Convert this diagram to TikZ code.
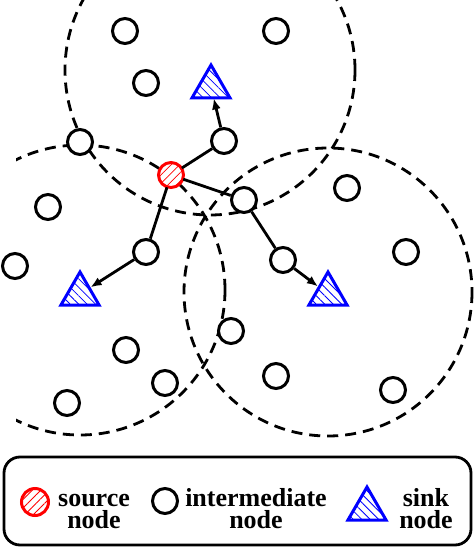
\documentclass[tikz,border=0pt]{standalone}
\usepackage{fontspec}
\setmainfont{Liberation Serif}
\usetikzlibrary{shapes.geometric,arrows.meta,patterns.meta}

\begin{document}
\begin{tikzpicture}[x=1pt,y=-1pt,
        relay/.style={circle, draw=black, line width=3pt, fill=white, minimum size=25pt, inner sep=0pt},
        srcnode/.style={circle, draw=red, line width=3pt, minimum size=25pt, inner sep=0pt,
            preaction={fill=white}, pattern={Lines[angle=45,distance=6pt,line width=0.8pt]}, pattern color=red},
        sinknode/.style={regular polygon, regular polygon sides=3, draw=blue, line width=3pt,
            minimum size=44pt, inner sep=0pt,
            preaction={fill=white}, pattern={Lines[angle=-45,distance=6pt,line width=0.8pt]}, pattern color=blue},
        coverage/.style={black, line width=2.8pt, dash pattern=on 11pt off 7pt},
        link/.style={black, line width=2.8pt},
        hop/.style={link, -{Latex[length=11pt,width=9pt]}},
        legtext/.style={font=\bfseries\fontsize{26}{22}\selectfont, align=center}]
        \useasboundingbox (0,0) rectangle (474,548);

        % Draw the ranges of the sinks
        \begin{scope}
            \clip (0,0) rectangle (474,548);
            \draw[coverage] (210,70) circle[radius=145];
            \draw[coverage] (328,292) circle[radius=144];
        \end{scope}
        \begin{scope}
            \clip (16,0) rectangle (474,548);
            \draw[coverage] (80,290) circle[radius=145];
        \end{scope}

        % Intermediate nodes
        \node[relay] (n1) at (125,31) {};
        \node[relay] (n2) at (276,31) {};
        \node[relay] (n3) at (146,83) {};
        \node[relay] (n4) at (80,142) {};
        \node[relay] (n5) at (224,141) {};
        \node[relay] (n6) at (244,200) {};
        \node[relay] (n7) at (347,188) {};
        \node[relay] (n8) at (48,207) {};
        \node[relay] (n9) at (146,252) {};
        \node[relay] (n10) at (283,260) {};
        \node[relay] (n11) at (406,252) {};
        \node[relay] (n12) at (15,266) {};
        \node[relay] (n13) at (231,331) {};
        \node[relay] (n14) at (126,350) {};
        \node[relay] (n15) at (165,383) {};
        \node[relay] (n16) at (276,376) {};
        \node[relay] (n17) at (393,390) {};
        \node[relay] (n18) at (67,403) {};

        % Source and sinks
        \node[srcnode] (src) at (171,175) {};
        \node[sinknode] (t1) at (211,87) {};
        \node[sinknode] (t2) at (80,294) {};
        \node[sinknode] (t3) at (328,294) {};

        % Draw the paths
        \draw[link] (src) -- (n5);
        \draw[hop] (n5) -- (t1);
        \draw[link] (src) -- (n6);
        \draw[link] (n6) -- (n10);
        \draw[hop] (n10) -- (t3);
        \draw[link] (src) -- (n9);
        \draw[hop] (n9) -- (t2);

        % Legend
        \draw[black, line width=2.8pt, rounded corners=16pt] (4,457) rectangle (471,545);
        \node[srcnode, minimum size=27pt] (ksrc) at (35,502) {};
        \node[legtext, anchor=base] (lsrc) at (94,528) {source\\node};
        \node[relay] (krelay) at (165,501) {};
        \node[legtext, anchor=base] (lrelay) at (256,528) {intermediate\\node};
        \node[sinknode] (ksink) at (367,509) {};
        \node[legtext, anchor=base] (lsink) at (426,528) {sink\\node};
    \end{tikzpicture}
\end{document}
